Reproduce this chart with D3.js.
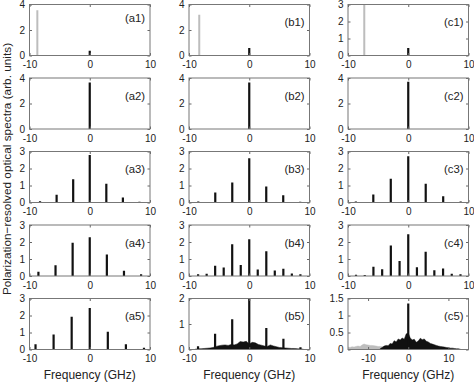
<!DOCTYPE html>
<html><head><meta charset="utf-8">
<script src="https://cdn.jsdelivr.net/npm/d3@7"></script>
<style>
body{margin:0;background:#fff;}
svg{display:block;font-family:"Liberation Sans",Arial,Helvetica,sans-serif;}
</style></head>
<body><svg id="c" width="474" height="383"></svg>
<script>
// ---------------- data ----------------
const columns = ["a","b","c"];
const rowsCount = 5;
const xDomainDefault = [-10, 10];
const xDomainC5 = [-15, 15];
const xTicksDefault = [-10, 0, 10];
const yMaxByPanel = {
  a1:4, b1:4, c1:3,  a2:4, b2:4, c2:4,  a3:3, b3:3, c3:3,
  a4:3, b4:3, c4:3,  a5:3, b5:2, c5:1.5
};
const yTicks4 = [0,2,4];
const yTicks3 = [0,1,2,3];
const yTicks2 = [0,1,2];
const yTicks15 = [0,0.5,1,1.5];

// row 1: gray (other polarisation) line + weak black line
const grayFreq1 = {a:[-8.7], b:[-8.3], c:[-7.3]};
const grayH1    = {a:[3.55], b:[3.2],  c:[3.0]};
const blackFreq1 = {a:[0], b:[0], c:[0]};
const blackH1    = {a:[0.38], b:[0.58], c:[0.44]};
// row 2
const blackFreq2 = {a:[0], b:[0], c:[0]};
const blackH2    = {a:[3.65], b:[3.65], c:[3.7]};
// row 3
const freqA3 = [-8.25,-5.5,-2.75,0,2.75,5.5,8.25];
const hA3    = [0.08,0.45,1.37,2.8,1.1,0.3,0.05];
const freqB3 = [-8.46,-5.64,-2.82,0,2.82,5.64,8.46];
const hB3    = [0.06,0.59,1.18,2.6,0.94,0.43,0.04];
const freqC3 = [-8.7,-5.8,-2.9,0,2.9,5.8,8.7];
const hC3    = [0.06,0.47,1.39,2.72,1.1,0.37,0.06];
// row 4
const freqA4 = [-8.52,-5.68,-2.84,0,2.84,5.68,8.52];
const hA4    = [0.25,0.63,1.95,2.28,1.26,0.31,0.11];
const freqB4 = [-8.49,-7.07,-5.66,-4.24,-2.83,-1.41,0,1.41,2.83,4.24,5.66,7.07,8.49];
const hB4    = [0.11,0.13,0.61,0.5,1.87,0.65,2.16,0.38,1.45,0.33,0.42,0.15,0.1];
const freqC4 = [-8.67,-7.22,-5.78,-4.33,-2.89,-1.44,0,1.44,2.89,4.33,5.78,7.22,8.67];
const hC4    = [0.08,0.06,0.55,0.4,1.8,0.88,2.45,0.52,1.43,0.34,0.44,0.13,0.1];
// row 5
const freqA5 = [-9,-6,-3,0,3,6,9];
const hA5    = [0.31,0.88,1.93,2.44,1.05,0.31,0.1];
const freqB5 = [-8.5,-5.67,-2.83,0,2.83,5.67,8.5];
const hB5    = [0.13,0.62,1.19,2.0,0.84,0.42,0.09];
const freqC5 = [0];
const hC5    = [1.35];
// broadband continua
const contFreqB5 = [-9,-8.5,-8,-7.5,-7,-6.5,-6,-5.5,-5,-4.5,-4,-3.5,-3,-2.5,-2,-1.5,-1,-0.5,0,0.5,1,1.5,2,2.5,3,3.5,4,4.5,5,5.5,6,6.5,7,7.5,8,8.5,9];
const contHB5    = [0.01,0.03,0.03,0.04,0.05,0.06,0.08,0.12,0.15,0.17,0.18,0.16,0.2,0.18,0.22,0.31,0.29,0.32,0.22,0.28,0.26,0.2,0.17,0.14,0.12,0.18,0.14,0.11,0.08,0.07,0.06,0.05,0.04,0.04,0.03,0.02,0.01];
const contFreqC5 = [-7,-6.5,-6,-5.5,-5,-4.5,-4,-3.5,-3,-2.5,-2,-1.5,-1,-0.5,0,0.5,1,1.5,2,2.5,3,3.5,4,4.5,5,5.5,6,6.5,7,7.5,8,8.5,9,9.5,10,10.5,11,11.5,12,12.5,13];
const contHC5    = [0.02,0.06,0.1,0.12,0.11,0.18,0.16,0.26,0.22,0.31,0.28,0.34,0.3,0.46,0.48,0.34,0.28,0.3,0.21,0.25,0.33,0.29,0.31,0.24,0.22,0.18,0.16,0.14,0.12,0.1,0.09,0.08,0.07,0.06,0.05,0.04,0.04,0.03,0.02,0.02,0.01];
const grayContFreqC5 = [-15,-14.5,-14,-13.5,-13,-12.5,-12,-11.5,-11,-10.5,-10,-9.5,-9,-8.5,-8,-7.5,-7,-6.5,-6,-5.5,-5];
const grayContHC5    = [0.07,0.06,0.08,0.07,0.09,0.1,0.09,0.13,0.16,0.14,0.13,0.12,0.12,0.11,0.1,0.09,0.09,0.08,0.07,0.05,0.03];

// ---------------- layout ----------------
const colLeft = {a:29.5, b:189, c:348};
const panelW = 120.5;
const rowTop0 = 4.5, rowPitch = 73.5, panelH = 51;
const svg = d3.select("#c");
const fmt = d => (d < 0 ? "-" + Math.abs(d) : String(d));

function zip(f, h){ return f.map((v,i)=>[v,h[i]]); }

function panelData(col, row){
  const p = {black:[], gray:[], cont:null, grayCont:null};
  if(row===1){ p.gray = zip(grayFreq1[col], grayH1[col]); p.black = zip(blackFreq1[col], blackH1[col]); }
  if(row===2){ p.black = zip(blackFreq2[col], blackH2[col]); }
  const tbl = {
    a3:[freqA3,hA3], b3:[freqB3,hB3], c3:[freqC3,hC3],
    a4:[freqA4,hA4], b4:[freqB4,hB4], c4:[freqC4,hC4],
    a5:[freqA5,hA5], b5:[freqB5,hB5], c5:[freqC5,hC5]
  };
  const k = col+row;
  if(tbl[k]) p.black = zip(tbl[k][0], tbl[k][1]);
  if(k==="b5") p.cont = zip(contFreqB5, contHB5);
  if(k==="c5"){ p.cont = zip(contFreqC5, contHC5); p.grayCont = zip(grayContFreqC5, grayContHC5); }
  return p;
}

columns.forEach(col => {
  for(let row=1; row<=rowsCount; row++){
    const key = col+row;
    const left = colLeft[col], top = rowTop0 + (row-1)*rowPitch;
    const g = svg.append("g").attr("transform", `translate(${left},${top})`);
    const x = d3.scaleLinear().domain(key==="c5"?xDomainC5:xDomainDefault).range([0,panelW]);
    const ymax = yMaxByPanel[key];
    const y = d3.scaleLinear().domain([0,ymax]).range([panelH,0]);
    const yt = ymax===4?yTicks4: ymax===3?yTicks3: ymax===2?yTicks2: yTicks15;
    const p = panelData(col,row);

    const clip = "clip-"+key;
    g.append("clipPath").attr("id",clip).append("rect").attr("width",panelW).attr("height",panelH);
    const plot = g.append("g").attr("clip-path",`url(#${clip})`);

    const area = d3.area().x(d=>x(d[0])).y0(y(0)).y1(d=>y(d[1]));
    if(p.grayCont) plot.append("path").datum(p.grayCont).attr("d",area).attr("fill","#bdbdbd").attr("stroke","#bdbdbd").attr("stroke-width",0.5);
    if(p.cont) plot.append("path").datum(p.cont).attr("d",area).attr("fill","#111").attr("stroke","#111").attr("stroke-width",0.5);

    plot.selectAll("line.gray").data(p.gray).enter().append("line")
      .attr("x1",d=>x(d[0])).attr("x2",d=>x(d[0])).attr("y1",y(0)).attr("y2",d=>y(d[1]))
      .attr("stroke","#bdbdbd").attr("stroke-width",2);
    plot.selectAll("line.black").data(p.black).enter().append("line")
      .attr("x1",d=>x(d[0])).attr("x2",d=>x(d[0])).attr("y1",y(0)).attr("y2",d=>y(d[1]))
      .attr("stroke","#111").attr("stroke-width",2.2);

    // axes
    const xt = xTicksDefault;
    const ax = g.append("g").attr("transform",`translate(0,${panelH})`)
      .call(d3.axisBottom(x).tickValues(xt).tickFormat(fmt).tickSizeInner(-2.5).tickSizeOuter(0).tickPadding(5.5));
    const ay = g.append("g")
      .call(d3.axisLeft(y).tickValues(yt).tickFormat(d=>String(d)).tickSizeInner(-2.5).tickSizeOuter(0).tickPadding(4.5));
    const axT = g.append("g").call(d3.axisTop(x).tickValues(xt).tickFormat("").tickSizeInner(-2.5).tickSizeOuter(0));
    const ayR = g.append("g").attr("transform",`translate(${panelW},0)`).call(d3.axisRight(y).tickValues(yt).tickFormat("").tickSizeInner(-2.5).tickSizeOuter(0));
    [ax,ay,axT,ayR].forEach(a=>{
      a.select(".domain").remove();
      a.selectAll("line").attr("stroke","#666");
      a.selectAll("text").attr("fill","#222").attr("font-size","10px").attr("font-family","Liberation Sans, Arial, sans-serif");
    });
    g.append("rect").attr("width",panelW).attr("height",panelH).attr("fill","none").attr("stroke","#777").attr("stroke-width",1);

    g.append("text").attr("x",panelW-5).attr("y",row===1&&col==="a"?17.5:21.5)
      .attr("text-anchor","end").attr("font-size","11.3px").attr("fill","#222").text(`(${key})`);

    if(row===rowsCount){
      svg.append("text").attr("x", left + x(0)).attr("y", 379).attr("text-anchor","middle")
        .attr("font-size","12px").attr("fill","#222").text("Frequency (GHz)");
    }
  }
});

svg.append("text").attr("transform","translate(11,169) rotate(-90)").attr("text-anchor","middle")
  .attr("font-size","11.8px").attr("fill","#222").text("Polarization\u2212resolved optical spectra (arb. units)");
</script></body></html>
